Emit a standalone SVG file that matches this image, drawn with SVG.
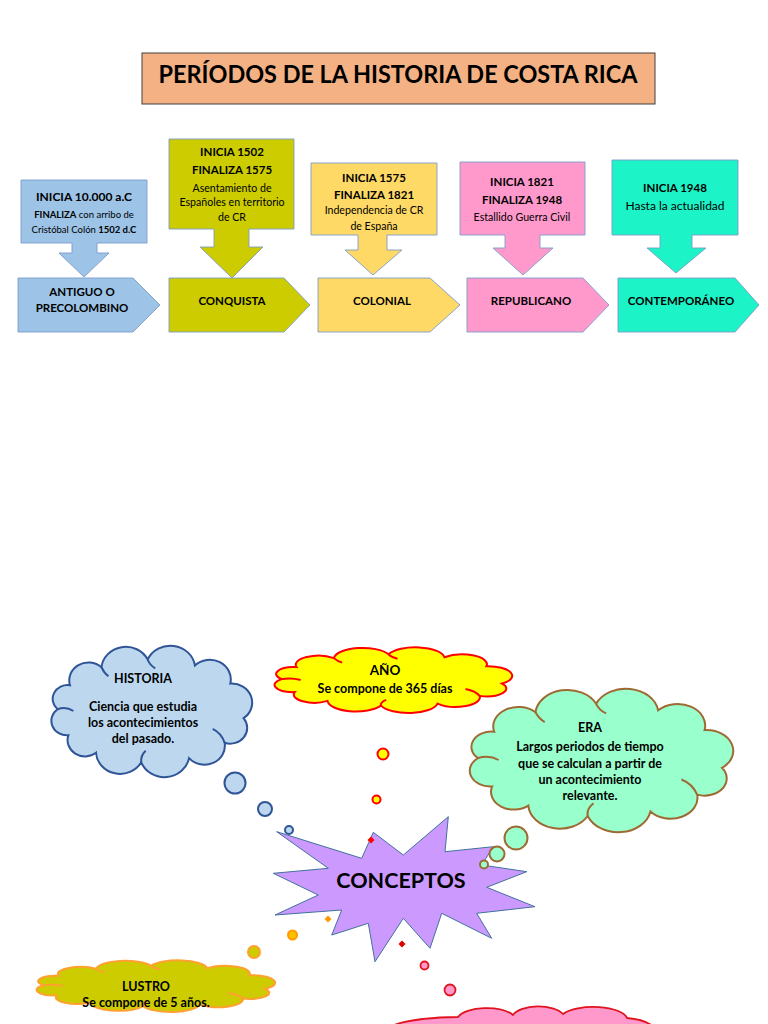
<svg xmlns="http://www.w3.org/2000/svg" xmlns:xlink="http://www.w3.org/1999/xlink" width="768" height="1024" viewBox="0 0 768 1024">
<style>
text{font-family:Lato,"Open Sans","Liberation Sans",sans-serif;fill:#000;text-anchor:middle}
.b{font-weight:bold}
.t1{font-size:11.5px;font-weight:bold}
.t2{font-size:9.5px}
.t3{font-size:10.6px}
.lab{font-size:11.5px;font-weight:bold}
.ct{font-size:12.5px;font-weight:bold}
.box{stroke:#7E9CCB;stroke-width:0.9}
.blue{fill:#9DC3E6}.olive{fill:#CCCC00}.yel{fill:#FFD966}.pink{fill:#FF99CC}.teal{fill:#1CF3C7}
.cH{fill:#BDD7EE;stroke:#2F5597;stroke-width:2}
.cA{fill:#FFFF00;stroke:#FF0000;stroke-width:2}
.cE{fill:#99FFCC;stroke:#9E6A34;stroke-width:2}
.cL{fill:#CCCC00;stroke:#FFA030;stroke-width:2}
.cP{fill:#FF99CC;stroke:#E0141E;stroke-width:1.8}
</style>
<defs>
<g id="cloud">
<path vector-effect="non-scaling-stroke" d="M 87.1 7.2 A 15.9 15.9 0 0 1 69.3 32.0 A 19.2 19.2 0 0 1 35.8 47.5 A 23.5 23.5 0 0 1 -9.2 51.7 A 22.7 22.7 0 0 1 -51.7 42.1 A 16.4 16.4 0 0 1 -77.7 24.4 A 14.6 14.6 0 0 1 -87.9 -1.8 A 14 14 0 0 1 -76.2 -26.0 A 18 18 0 0 1 -46.6 -44.1 A 23 23 0 0 1 -3.1 -51.9 A 23.3 23.3 0 0 1 41.3 -45.9 A 19.8 19.8 0 0 1 74.6 -27.6 A 19.2 19.2 0 0 1 87.1 7.2 Z"/>
<path vector-effect="non-scaling-stroke" style="fill:none" d="M -87.9 -1.8 Q -80 -5 -73 0 M 69.3 32 Q 66 22 58 18 M -9.2 51.7 Q -10 45 -5 40 M -3.1 -51.9 Q -1 -46 4 -43 M -46.6 -44.1 Q -44 -38 -40 -35"/>
</g>
</defs>

<g id="title">
<rect x="142" y="53" width="513" height="51" fill="#F4B183" stroke="#404040" stroke-width="1"/>
<text x="398" y="83" class="b" style="font-size:25px" textLength="479" lengthAdjust="spacingAndGlyphs">PERÍODOS DE LA HISTORIA DE COSTA RICA</text>
</g>

<g id="callout-antiguo">
<path class="box blue" d="M21 180 H147 V243 H97 V253 H109 L84 277 L59 253 H72 V243 H21 Z"/>
<text x="84" y="201" class="t1" style="font-size:12px">INICIA 10.000 a.C</text>
<text x="84" y="218" class="t2"><tspan class="b">FINALIZA</tspan> con arribo de</text>
<text x="84" y="233" class="t2">Cristóbal Colón <tspan class="b">1502 d.C</tspan></text>
</g>
<g id="callout-conquista">
<path class="box olive" d="M169 139 H294 V229 H249 V247 H263 L232 278 L200 247 H214 V229 H169 Z"/>
<text x="232" y="156" class="t1">INICIA 1502</text>
<text x="232" y="174" class="t1">FINALIZA 1575</text>
<text x="232" y="191.5" class="t3">Asentamiento de</text>
<text x="232" y="206" class="t3">Españoles en territorio</text>
<text x="232" y="221" class="t3">de CR</text>
</g>
<g id="callout-colonial">
<path class="box yel" d="M311 163 H437 V235 H387 V250 H402 L373 275 L345 250 H358 V235 H311 Z"/>
<text x="374" y="182" class="t1">INICIA 1575</text>
<text x="374" y="198.5" class="t1">FINALIZA 1821</text>
<text x="374" y="214" class="t3">Independencia de CR</text>
<text x="374" y="230" class="t3">de España</text>
</g>
<g id="callout-republicano">
<path class="box pink" d="M460 162 H585 V235 H540 V248 H553 L523 275 L493 248 H505 V235 H460 Z"/>
<text x="522" y="186" class="t1">INICIA 1821</text>
<text x="522" y="204" class="t1">FINALIZA 1948</text>
<text x="522" y="220.5" class="t3">Estallido Guerra Civil</text>
</g>
<g id="callout-contemporaneo">
<path class="box teal" d="M612 160 H738 V235 H692 V248 H706 L676 273 L647 248 H660 V235 H612 Z"/>
<text x="675" y="192" class="t1">INICIA 1948</text>
<text x="675" y="210" style="font-size:12px">Hasta la actualidad</text>
</g>

<g id="antiguo">
<polygon class="box blue" points="18,278 133,278 160,305 133,332 18,332"/>
<text x="82" y="296" class="lab">ANTIGUO O</text>
<text x="82" y="312" class="lab">PRECOLOMBINO</text>
</g>
<g id="conquista">
<polygon class="box olive" points="169,278 284,278 310,305 284,332 169,332"/>
<text x="232" y="305" class="lab">CONQUISTA</text>
</g>
<g id="colonial">
<polygon class="box yel" points="318,278 430,278 460,305 430,332 318,332"/>
<text x="382" y="305" class="lab">COLONIAL</text>
</g>
<g id="republicano">
<polygon class="box pink" points="467,278 583,278 609,305 583,332 467,332"/>
<text x="531" y="305" class="lab">REPUBLICANO</text>
</g>
<g id="contemporaneo">
<polygon class="box teal" points="618,278 735,278 759,305 735,332 618,332"/>
<text x="681" y="305" class="lab">CONTEMPORÁNEO</text>
</g>

<g id="conceptos">
<polygon fill="#CC99FF" stroke="#41719C" stroke-width="1" points="448.3,816.7 445,851.7 493.3,846.7 481.7,865 526.7,871.7 486.7,887.3 535,906.7 476.7,913.3 491.7,938.3 441.7,913.3 430,948.3 403.3,918.3 375,961.7 368.3,923.3 331.7,935 341.7,910 275,915 318.3,895 273.3,873.3 328.3,868.3 276.7,831.7 361.7,858.3 373.3,832.3 403.3,855"/>
<text x="401" y="888" class="b" style="font-size:21.5px">CONCEPTOS</text>
</g>

<g id="connectors">
<circle class="cH" cx="235" cy="783" r="10.5"/>
<circle class="cH" cx="265" cy="809" r="7"/>
<circle class="cH" cx="289" cy="830" r="4"/>
<circle class="cA" cx="383" cy="754" r="5.5"/>
<circle class="cA" cx="376.5" cy="799.5" r="4"/>
<polygon fill="#FF0000" points="371,836.5 374.5,840 371,843.5 367.5,840"/>
<circle class="cE" cx="516" cy="838" r="11.5"/>
<circle class="cE" cx="497" cy="854" r="7.5"/>
<circle class="cE" cx="484" cy="864.5" r="4"/>
<circle class="cL" cx="254" cy="952" r="6"/>
<circle fill="#FFC000" stroke="#FF9900" stroke-width="2" cx="292.5" cy="935" r="4.5"/>
<polygon fill="#FF9900" points="328,915.5 331.5,919 328,922.5 324.5,919"/>
<polygon fill="#E00000" points="402,940.5 405.5,944 402,947.5 398.5,944"/>
<circle class="cP" cx="424.5" cy="965.5" r="4"/>
<circle class="cP" cx="450" cy="990" r="5.5"/>
</g>

<g id="historia">
<use xlink:href="#cloud" class="cH" transform="translate(151 711) scale(1.063 0.992)"/>
<text x="143" y="683" class="ct">HISTORIA</text>
<text x="143" y="711" class="ct">Ciencia que estudia</text>
<text x="143" y="727" class="ct">los acontecimientos</text>
<text x="143" y="743" class="ct">del pasado.</text>
</g>
<g id="ano">
<use xlink:href="#cloud" class="cA" transform="translate(392.5 680) scale(1.258 0.496)"/>
<text x="385" y="675" class="ct" style="font-size:13.5px">AÑO</text>
<text x="385" y="693" class="ct">Se compone de 365 días</text>
</g>
<g id="era">
<use xlink:href="#cloud" class="cE" transform="translate(600.5 760) scale(1.395 1.083)"/>
<text x="590" y="732" class="ct">ERA</text>
<text x="590" y="751" class="ct">Largos periodos de tiempo</text>
<text x="590" y="768" class="ct">que se calculan a partir de</text>
<text x="590" y="783.5" class="ct">un acontecimiento</text>
<text x="590" y="800" class="ct">relevante.</text>
</g>
<g id="lustro">
<use xlink:href="#cloud" class="cL" transform="translate(155 986) scale(1.263 0.39)"/>
<text x="146" y="991" class="ct">LUSTRO</text>
<text x="146" y="1007" class="ct">Se compone de 5 años.</text>
</g>
<g id="rosa">
<path class="cP" d="M 380 1034 Q 392 1018 458 1017 A 30 13 0 0 1 513 1015 A 27 13 0 0 1 563 1014 A 34 13 0 0 1 627 1018 Q 652 1020 660 1034 Z"/>
</g>
</svg>
